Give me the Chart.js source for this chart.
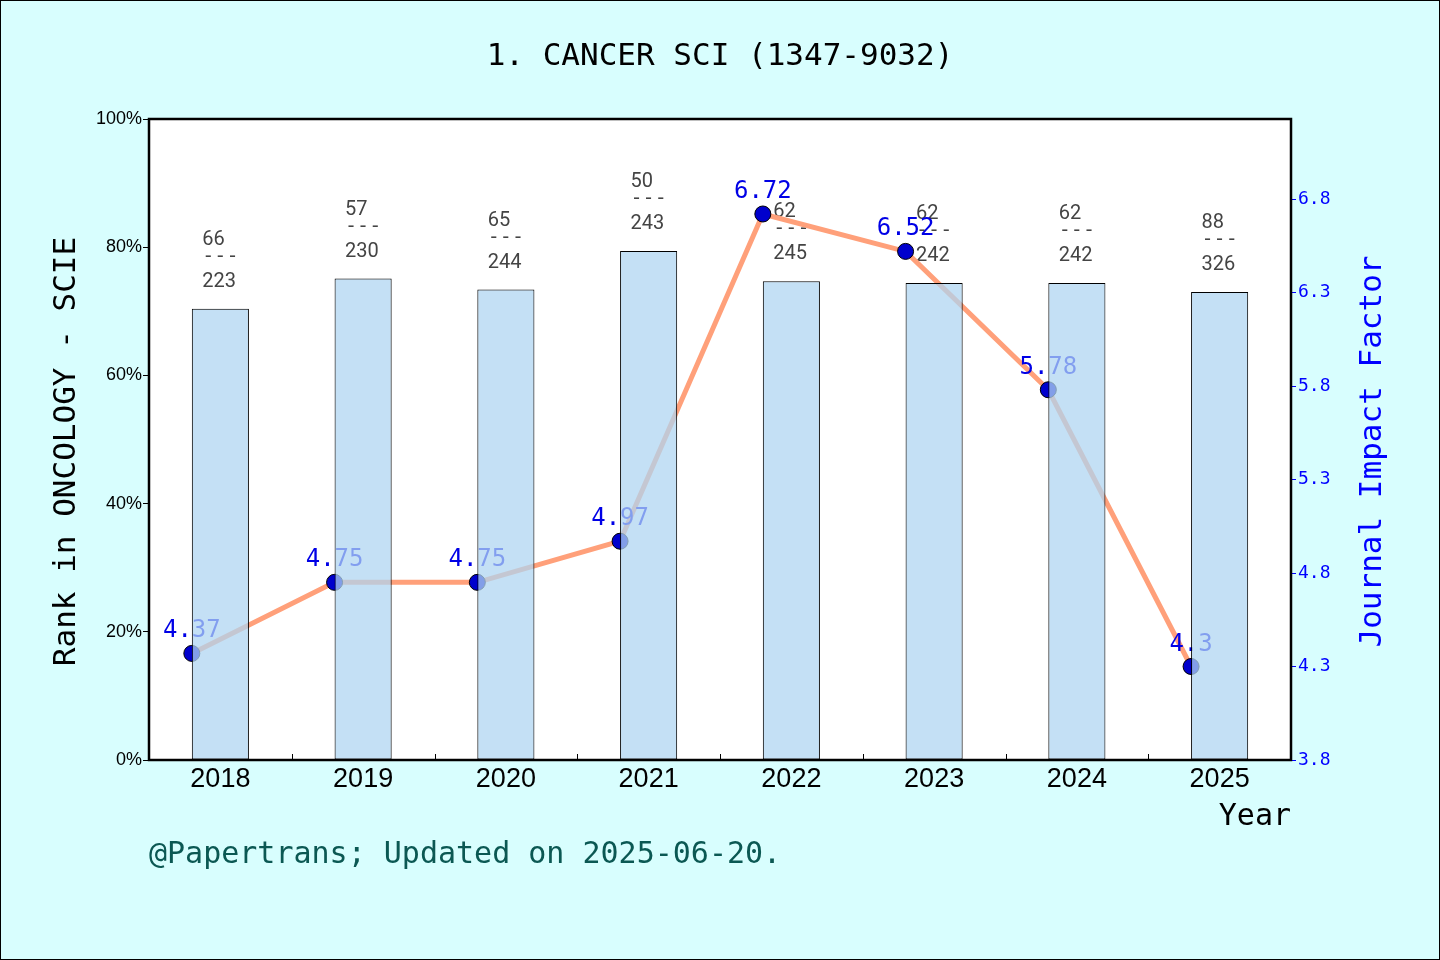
<!DOCTYPE html>
<html>
<head>
<meta charset="utf-8">
<script src="https://cdn.jsdelivr.net/npm/chart.js@4.4.1/dist/chart.umd.min.js"></script>
<style>
  html, body { margin: 0; padding: 0; background: #d8fefe; }
  canvas { display: block; }
</style>
</head>
<body>
<canvas id="chart" width="1440" height="960"></canvas>
<script>
// values
const years = ['2018', '2019', '2020', '2021', '2022', '2023', '2024', '2025'];
const rankNum = [66, 57, 65, 50, 62, 62, 62, 88];
const rankTotal = [223, 230, 244, 243, 245, 242, 242, 326];
const rankPct = [70.4, 75.1, 73.4, 79.4, 74.7, 74.4, 74.4, 73.0];
const impactFactor = [4.37, 4.75, 4.75, 4.97, 6.72, 6.52, 5.78, 4.3];
const pctTicks = [0, 20, 40, 60, 80, 100];
const ifTicks = [3.8, 4.3, 4.8, 5.3, 5.8, 6.3, 6.8];

const titleText = '1. CANCER SCI (1347-9032)';
const leftTitle = 'Rank in ONCOLOGY - SCIE';
const rightTitle = 'Journal Impact Factor';
const footerText = '@Papertrans; Updated on 2025-06-20.';

const MONO = '"DejaVu Sans Mono", "Liberation Mono", monospace';
const SANS = '"Liberation Sans", Arial, sans-serif';
const BG = '#d8fefe';

const framePlugin = {
  id: 'frame',
  beforeDraw(chart) {
    const { ctx, chartArea: a, width, height } = chart;
    ctx.save();
    ctx.fillStyle = BG;
    ctx.fillRect(0, 0, width, height);
    ctx.strokeStyle = '#000';
    ctx.lineWidth = 1;
    ctx.strokeRect(0.5, 0.5, width - 1, height - 1);
    ctx.fillStyle = '#fff';
    ctx.fillRect(a.left, a.top, a.right - a.left, a.bottom - a.top);
    ctx.restore();
  },
  beforeDatasetsDraw(chart) {
    // rank labels above the bars, under everything else
    const { ctx } = chart;
    const meta = chart.getDatasetMeta(0);
    const numFont = '20px Roboto, "Liberation Sans", sans-serif';
    const dashFont = '20px ' + MONO;
    ctx.save();
    ctx.fillStyle = '#444';
    ctx.textBaseline = 'alphabetic';
    ctx.textAlign = 'left';
    meta.data.forEach((bar, i) => {
      const lines = [String(rankNum[i]), '---', String(rankTotal[i])];
      const fonts = [numFont, dashFont, numFont];
      const w = Math.max(...lines.map((s, k) => { ctx.font = fonts[k]; return ctx.measureText(s).width; }));
      const x0 = bar.x - w / 2;
      const base = bar.y - 22;
      lines.forEach((s, k) => {
        ctx.font = fonts[k];
        ctx.fillText(s, x0, base - (2 - k) * 21 - (k === 1 ? 4 : 0));
      });
    });
    ctx.restore();
  },
  afterDatasetDraw(chart, args) {
    if (args.index !== 1) return;
    const { ctx } = chart;
    ctx.save();
    ctx.font = '24px ' + MONO;
    ctx.fillStyle = '#0000e6';
    ctx.textAlign = 'center';
    ctx.textBaseline = 'alphabetic';
    args.meta.data.forEach((pt, i) => {
      ctx.fillText(String(impactFactor[i]), pt.x, pt.y - 16);
    });
    ctx.restore();
  },
  afterDatasetsDraw(chart) {
    const { ctx, chartArea: a } = chart;
    ctx.save();
    // small inner ticks between the years
    ctx.strokeStyle = '#000';
    ctx.lineWidth = 1;
    const step = (a.right - a.left) / years.length;
    for (let i = 1; i < years.length; i++) {
      const x = Math.round(a.left + i * step) + 0.5;
      ctx.beginPath();
      ctx.moveTo(x, a.bottom);
      ctx.lineTo(x, a.bottom - 6);
      ctx.stroke();
    }
    ctx.lineWidth = 2.5;
    ctx.strokeRect(a.left, a.top, a.right - a.left, a.bottom - a.top);
    ctx.restore();
  },
  afterDraw(chart) {
    const { ctx, chartArea: a } = chart;
    const midY = (a.top + a.bottom) / 2 + 12;
    ctx.save();
    ctx.textAlign = 'center';
    ctx.textBaseline = 'middle';
    ctx.font = '31px ' + MONO;
    ctx.fillStyle = '#000';
    ctx.fillText(titleText, 720, 57);

    ctx.save();
    ctx.translate(67, midY);
    ctx.rotate(-Math.PI / 2);
    ctx.fillText(leftTitle, 0, 0);
    ctx.restore();

    ctx.save();
    ctx.translate(1373, midY);
    ctx.rotate(-Math.PI / 2);
    ctx.fillStyle = '#0000ff';
    ctx.fillText(rightTitle, 0, 0);
    ctx.restore();

    ctx.font = '30px ' + MONO;
    ctx.textAlign = 'right';
    ctx.fillText('Year', a.right, 817);

    ctx.textAlign = 'left';
    ctx.fillStyle = '#0b5853';
    ctx.fillText(footerText, 149, 855);
    ctx.restore();
  }
};

new Chart(document.getElementById('chart'), {
  type: 'line',
  data: {
    labels: years,
    datasets: [
      {
        type: 'bar',
        data: rankPct,
        yAxisID: 'y',
        xAxisID: 'x',
        grouped: false,
        backgroundColor: 'rgba(176, 213, 241, 0.74)',
        borderColor: '#000',
        borderWidth: 1,
        borderSkipped: false,
        barPercentage: 0.4,
        categoryPercentage: 1.0,
        order: 0
      },
      {
        type: 'line',
        data: impactFactor.map((v, i) => ({ x: i - 0.2, y: v })),
        yAxisID: 'y1',
        xAxisID: 'xl',
        borderColor: '#ffa07a',
        borderWidth: 5,
        pointRadius: 8,
        pointBackgroundColor: '#0000cd',
        pointBorderColor: '#000',
        pointBorderWidth: 1,
        tension: 0,
        clip: false,
        order: 1
      }
    ]
  },
  options: {
    responsive: false,
    animation: false,
    devicePixelRatio: 1,
    layout: { padding: { top: 119, left: 0, right: 0, bottom: 0 } },
    plugins: { legend: { display: false }, tooltip: { enabled: false } },
    scales: {
      x: {
        type: 'category',
        offset: true,
        grid: { display: false, drawTicks: false, offset: true },
        border: { display: false },
        ticks: { color: '#000', font: { family: SANS, size: 27 }, padding: 3, maxRotation: 0 },
        afterFit(s) { s.height = 200; }
      },
      xl: {
        type: 'linear',
        display: false,
        offset: false,
        min: -0.5,
        max: years.length - 0.5
      },
      y: {
        position: 'left',
        min: 0,
        max: 100,
        afterBuildTicks(s) { s.ticks = pctTicks.map(v => ({ value: v })); },
        grid: { drawOnChartArea: false, drawTicks: true, tickLength: 6, color: '#000' },
        border: { display: false },
        ticks: { color: '#000', font: { family: SANS, size: 18 }, padding: 1, callback: v => v + '%' },
        afterFit(s) { s.width = 149; }
      },
      y1: {
        position: 'right',
        min: 3.8,
        max: 7.228,
        afterBuildTicks(s) { s.ticks = ifTicks.map(v => ({ value: v })); },
        grid: { drawOnChartArea: false, drawTicks: true, tickLength: 5, color: '#0000ff' },
        border: { display: false },
        ticks: { color: '#0000ff', font: { family: MONO, size: 18 }, padding: 2, callback: v => v.toFixed(1) },
        afterFit(s) { s.width = 149; }
      }
    }
  },
  plugins: [framePlugin]
});
</script>
</body>
</html>
